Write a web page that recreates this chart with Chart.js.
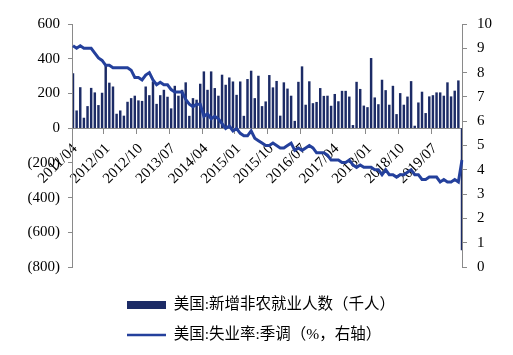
<!DOCTYPE html>
<html><head><meta charset="utf-8">
<script src="https://cdn.jsdelivr.net/npm/chart.js@4.4.1/dist/chart.umd.min.js"></script>
<style>html,body{margin:0;padding:0;background:#fff}#wrap{width:513px;height:355px}</style>
</head><body><div id="wrap"><canvas id="c" width="513" height="355"></canvas></div>
<script>
const categories = [
 '2011/04','2011/05','2011/06','2011/07','2011/08','2011/09','2011/10','2011/11','2011/12',
 '2012/01','2012/02','2012/03','2012/04','2012/05','2012/06','2012/07','2012/08','2012/09','2012/10','2012/11','2012/12',
 '2013/01','2013/02','2013/03','2013/04','2013/05','2013/06','2013/07','2013/08','2013/09','2013/10','2013/11','2013/12',
 '2014/01','2014/02','2014/03','2014/04','2014/05','2014/06','2014/07','2014/08','2014/09','2014/10','2014/11','2014/12',
 '2015/01','2015/02','2015/03','2015/04','2015/05','2015/06','2015/07','2015/08','2015/09','2015/10','2015/11','2015/12',
 '2016/01','2016/02','2016/03','2016/04','2016/05','2016/06','2016/07','2016/08','2016/09','2016/10','2016/11','2016/12',
 '2017/01','2017/02','2017/03','2017/04','2017/05','2017/06','2017/07','2017/08','2017/09','2017/10','2017/11','2017/12',
 '2018/01','2018/02','2018/03','2018/04','2018/05','2018/06','2018/07','2018/08','2018/09','2018/10','2018/11','2018/12',
 '2019/01','2019/02','2019/03','2019/04','2019/05','2019/06','2019/07','2019/08','2019/09','2019/10','2019/11','2019/12',
 '2020/01','2020/02','2020/03'
];
const payrolls = [
 315,100,234,58,125,230,204,131,202,
 360,260,238,81,100,70,150,171,185,158,155,238,
 188,267,138,188,219,179,112,242,185,219,262,69,
 171,162,254,325,219,325,229,185,306,248,290,267,
 190,267,69,281,329,171,300,125,152,304,233,270,
 70,262,226,185,40,265,354,133,268,142,149,229,
 184,185,127,195,153,213,213,180,16,265,224,128,
 119,402,175,136,277,217,133,242,79,200,133,180,
 269,12,146,208,85,181,188,204,204,185,262,181,
 214,273,-701
];
const unemployment = [
 9.1,9.0,9.1,9.0,9.0,9.0,8.8,8.6,8.5,
 8.3,8.3,8.2,8.2,8.2,8.2,8.2,8.1,7.8,7.8,7.7,7.9,
 8.0,7.7,7.5,7.6,7.5,7.5,7.3,7.2,7.2,7.2,6.9,6.7,
 6.6,6.7,6.7,6.2,6.3,6.1,6.2,6.1,5.9,5.7,5.8,5.6,
 5.7,5.5,5.4,5.4,5.6,5.3,5.2,5.1,5.0,5.0,5.1,5.0,
 4.9,4.9,5.0,5.1,4.8,4.9,4.8,4.9,5.0,4.9,4.7,4.7,
 4.7,4.6,4.4,4.4,4.4,4.3,4.3,4.4,4.2,4.1,4.2,4.1,
 4.1,4.1,4.0,4.0,3.8,4.0,3.8,3.8,3.7,3.8,3.8,3.9,
 4.0,3.8,3.8,3.6,3.6,3.7,3.7,3.7,3.5,3.6,3.5,3.5,
 3.6,3.5,4.4
];
const tickLabels = ['2011/04','2012/01','2012/10','2013/07','2014/04','2015/01','2015/10','2016/07','2017/04','2018/01','2018/10','2019/07'];
const seriesNames = ['美国:新增非农就业人数（千人）','美国:失业率:季调（%，右轴）'];

const AXIS = '#8a8a8a';
const BAR = '#1c2b66';
const LINE = '#24409c';
const SERIF = "'Liberation Serif', 'Times New Roman', serif";

Chart.defaults.font.family = SERIF;
Chart.defaults.color = '#000';

const legendShift = {
  id: 'legendShift',
  afterLayout(chart) { if (chart.legend) { chart.legend.left = 112.5; } }
};

new Chart(document.getElementById('c'), {
  data: {
    labels: categories,
    datasets: [
      { type: 'bar', label: seriesNames[0], data: payrolls, yAxisID: 'y', order: 1,
        backgroundColor: BAR, borderWidth: 0, barThickness: 1.8 },
      { type: 'line', label: seriesNames[1], data: unemployment, yAxisID: 'y1', order: 0,
        borderColor: LINE, backgroundColor: LINE, borderWidth: 3, pointRadius: 0, tension: 0,
        pointStyle: 'line' }
    ]
  },
  options: {
    responsive: false,
    animation: false,
    layout: { padding: { left: 19.5, right: 11, top: 24, bottom: 2.25 } },
    plugins: {
      tooltip: { enabled: false },
      legend: {
        position: 'bottom',
        align: 'start',
        title: { display: true, text: '', font: { size: 5 }, padding: { top: 9.75, bottom: 0 } },
        labels: {
          usePointStyle: true,
          pointStyleWidth: 39,
          boxHeight: 8,
          padding: 14.5,
          color: '#000',
          font: { size: 15.5, family: "'Liberation Serif', 'Noto Sans CJK SC', sans-serif" },
          generateLabels(chart) {
            const items = Chart.defaults.plugins.legend.labels.generateLabels(chart);
            items.sort((a, b) => a.datasetIndex - b.datasetIndex);
            items.forEach(it => {
              if (it.datasetIndex === 0) { it.pointStyle = 'rect'; it.fillStyle = BAR; it.lineWidth = 0; it.strokeStyle = BAR; }
              else { it.pointStyle = 'line'; it.strokeStyle = LINE; it.lineWidth = 2.5; }
            });
            return items;
          }
        }
      }
    },
    scales: {
      x: {
        type: 'category',
        position: { y: 0 },
        offset: false,
        grid: {
          display: true, drawOnChartArea: false, drawTicks: true, tickLength: 5,
          tickColor: (ctx) => tickLabels.includes(categories[ctx.index]) ? AXIS : 'rgba(0,0,0,0)'
        },
        border: { display: true, color: AXIS, width: 1 },
        ticks: {
          autoSkip: false, maxRotation: 45, minRotation: 45, padding: 7, labelOffset: 2,
          font: { size: 15, family: SERIF }, color: '#000',
          callback(v, i) { const l = categories[i]; return tickLabels.includes(l) ? l : ''; }
        }
      },
      y: {
        position: 'left',
        min: -800, max: 600,
        grid: { display: true, drawOnChartArea: false, drawTicks: true, tickLength: 5, tickColor: AXIS },
        border: { display: true, color: AXIS, width: 1 },
        ticks: {
          stepSize: 200, padding: 8, font: { size: 15, family: SERIF }, color: '#000',
          callback(v) { return v < 0 ? '(' + Math.abs(v) + ')' : String(v); }
        }
      },
      y1: {
        position: 'right',
        min: 0, max: 10,
        grid: { display: true, drawOnChartArea: false, drawTicks: true, tickLength: 5, tickColor: AXIS },
        border: { display: true, color: AXIS, width: 1 },
        ticks: { stepSize: 1, padding: 10, font: { size: 15, family: SERIF }, color: '#000' }
      }
    }
  },
  plugins: [legendShift]
});
</script>
</body></html>
